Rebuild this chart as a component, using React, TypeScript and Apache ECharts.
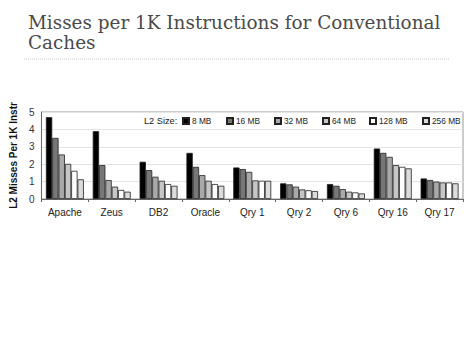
import React, { useEffect, useRef } from "react";
import * as echarts from "echarts";

const categories = ["Apache", "Zeus", "DB2", "Oracle", "Qry 1", "Qry 2", "Qry 6", "Qry 16", "Qry 17"];
const sizes = ["8 MB", "16 MB", "32 MB", "64 MB", "128 MB", "256 MB"];
const mb8 = [4.7, 3.9, 2.14, 2.65, 1.81, 0.9, 0.86, 2.9, 1.18];
const mb16 = [3.51, 1.95, 1.66, 1.85, 1.72, 0.84, 0.76, 2.65, 1.09];
const mb32 = [2.56, 1.09, 1.28, 1.37, 1.56, 0.71, 0.57, 2.42, 1.0];
const mb64 = [2.02, 0.71, 1.05, 1.05, 1.07, 0.55, 0.42, 1.95, 0.95];
const mb128 = [1.62, 0.52, 0.86, 0.86, 1.05, 0.5, 0.38, 1.85, 0.95];
const mb256 = [1.13, 0.42, 0.76, 0.76, 1.05, 0.46, 0.32, 1.76, 0.9];
const seriesValues = [mb8, mb16, mb32, mb64, mb128, mb256];
const colors = ["#000000", "#777777", "#a9a9a9", "#c6c6c6", "#ffffff", "#dcdcdc"];
const legendLefts = [182, 226, 274, 322, 369, 422];
const yTicks = [0, 1, 2, 3, 4, 5];
const sans = "'Liberation Sans', Arial, sans-serif";

export default function App() {
  const ref = useRef<HTMLDivElement>(null);
  useEffect(() => {
    if (!ref.current) return;
    const chart = echarts.init(ref.current, null, { renderer: "svg" });
    chart.setOption({
      animation: false,
      backgroundColor: "#ffffff",
      textStyle: { fontFamily: sans },
      graphic: [
        {
          type: "text",
          left: 28,
          top: 13,
          style: {
            text: "Misses per 1K Instructions for Conventional\nCaches",
            font: "18.4px 'DejaVu Serif', serif",
            lineHeight: 19.5,
            fill: "#4a4a4a",
          },
        },
        {
          type: "line",
          shape: { x1: 24, y1: 59, x2: 450, y2: 59 },
          style: { stroke: "#c8c8c8", lineWidth: 1, lineDash: [1, 1] },
        },
        {
          type: "text",
          left: 144,
          top: 116,
          style: {
            text: "L2 Size:",
            font: "9.2px " + sans,
            fill: "#222",
          },
        },
      ],
      legend: sizes.map((name, i) => ({
        data: [name],
        left: legendLefts[i],
        top: 117,
        padding: 0,
        itemWidth: 6,
        itemHeight: 6,
        icon: "rect",
        textStyle: { fontSize: 8.3, fontFamily: sans, color: "#222", padding: [0, 0, 0, -2] },
      })),
      grid: {
        left: 32,
        right: 11,
        top: 112,
        bottom: 156,
        show: true,
        borderColor: "#999",
        borderWidth: 1,
        containLabel: false,
      },
      xAxis: {
        type: "category",
        data: categories,
        axisLine: { lineStyle: { color: "#666" } },
        axisTick: { show: true, length: 3, lineStyle: { color: "#666" } },
        axisLabel: { fontSize: 10, color: "#222", margin: 8 },
      },
      yAxis: {
        type: "value",
        min: 0,
        max: 5,
        interval: 1,
        name: "L2 Misses Per 1K Instr",
        nameLocation: "middle",
        nameRotate: 90,
        nameGap: 20,
        nameTextStyle: { fontSize: 10, fontWeight: "bold", color: "#111" },
        axisLine: { show: true, lineStyle: { color: "#666" } },
        axisTick: { show: false },
        axisLabel: {
          fontSize: 10,
          color: "#333",
          margin: 7,
          formatter: (v: number) => (yTicks.includes(v) ? String(v) : ""),
        },
        splitLine: { lineStyle: { color: "#e4e4e4" } },
      },
      series: sizes.map((name, i) => ({
        name,
        type: "bar",
        data: seriesValues[i],
        barGap: "0%",
        barCategoryGap: "19%",
        itemStyle: { color: colors[i], borderColor: "#222", borderWidth: 0.8 },
      })),
    });
    return () => chart.dispose();
  }, []);
  return (
    <div
      ref={ref}
      style={{ position: "absolute", left: 0, top: 0, width: 474, height: 355 }}
    />
  );
}
